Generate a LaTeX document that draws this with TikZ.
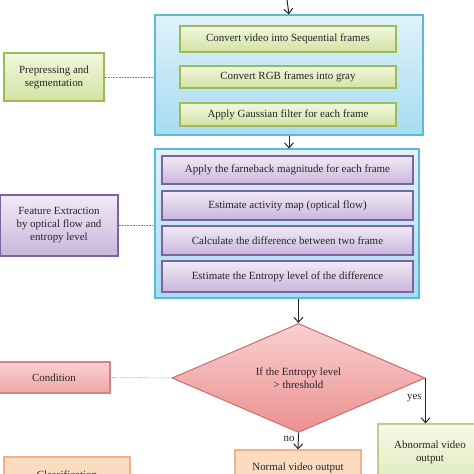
\documentclass[tikz,border=0pt]{standalone}
\usepackage{fontspec}
\setmainfont{Liberation Serif}
\usetikzlibrary{arrows.meta,shapes.geometric}
\definecolor{grnTop}{HTML}{F2F7DE}
\definecolor{grnBot}{HTML}{D3E2A3}
\definecolor{grnLine}{HTML}{9BBB59}
\definecolor{bluTop}{HTML}{E0F2FA}
\definecolor{bluBot}{HTML}{A6DBF0}
\definecolor{bluLine}{HTML}{5BBAD6}
\definecolor{purTop}{HTML}{F1EAF6}
\definecolor{purBot}{HTML}{C9B6DC}
\definecolor{purLine}{HTML}{7F62A0}
\definecolor{redTop}{HTML}{F9D0D0}
\definecolor{redBot}{HTML}{EC9090}
\definecolor{redLine}{HTML}{C0504D}
\definecolor{orgFill}{HTML}{FCDCC0}
\definecolor{orgLine}{HTML}{F4B183}
\definecolor{txtGray}{HTML}{262626}
\tikzset{
	box/.style={draw, rectangle, align=center, inner sep=2pt, line width=1.1pt, text=txtGray},
	greenbox/.style={box, draw=grnLine, top color=grnTop, bottom color=grnBot},
	bluebox/.style={box, draw=bluLine, top color=bluTop, bottom color=bluBot},
	purplebox/.style={box, draw=purLine, top color=purTop, bottom color=purBot},
	redbox/.style={box, draw=redLine!70, top color=redTop, bottom color=redBot!80},
	orangebox/.style={box, draw=orgLine, fill=orgFill},
	link/.style={densely dotted, gray, line width=0.6pt},
	flow/.style={->, line width=1pt, black!85}
}
\begin{document}
\begin{tikzpicture}[x=1bp, y=-1bp, >={Straight Barb[length=5pt,width=9pt]},
		font=\fontsize{11}{13}\selectfont]
	\useasboundingbox (0,0) rectangle (474,474);
	\coordinate (top) at (287,0);
	% preprocessing stage
	\node[bluebox, minimum width=268bp, minimum height=120bp] (pre) at (289,75) {};
	\node[greenbox, minimum width=216bp, minimum height=26bp] (pre1) at (288,39) {Convert video into Sequential frames};
	\node[greenbox, minimum width=216bp, minimum height=22bp] (pre2) at (288,77) {Convert RGB frames into gray};
	\node[greenbox, minimum width=216bp, minimum height=23bp] (pre3) at (288,114.5) {Apply Gaussian filter for each frame};
	\node[greenbox, minimum width=100bp, minimum height=48bp] (preLab) at (54,77) {Prepressing and\\segmentation};
	% feature stage
	\node[bluebox, minimum width=264bp, minimum height=149bp] (feat) at (287,223.5) {};
	\node[purplebox, minimum width=251bp, minimum height=28bp] (feat1) at (287.5,170) {Apply the farneback magnitude for each frame};
	\node[purplebox, minimum width=251bp, minimum height=29bp] (feat2) at (287.5,205.5) {Estimate activity map (optical flow)};
	\node[purplebox, minimum width=251bp, minimum height=29bp] (feat3) at (287.5,240.5) {Calculate the difference between two frame};
	\node[purplebox, minimum width=251bp, minimum height=31bp] (feat4) at (287.5,276.5) {Estimate the Entropy level of the difference};
	\node[purplebox, minimum width=118bp, minimum height=61bp] (featLab) at (59,225.5) {Feature Extraction\\by optical flow and\\entropy level};
	% decision
	\node[diamond, draw=redLine!80, line width=1.1pt, top color=redTop, bottom color=redBot,
		minimum width=253bp, minimum height=109bp, inner sep=0pt, align=center, text=txtGray] (cond) at (298.5,378) {If the Entropy level\\> threshold};
	\node[redbox, minimum width=112bp, minimum height=31bp] (condLab) at (54,377.5) {Condition};
	\node[greenbox, draw=grnLine!70, top color=grnTop!70, bottom color=grnBot!70, minimum width=104bp, minimum height=56bp] (abn) at (430,452) {Abnormal video\\output};
	\node[orangebox, minimum width=126bp, minimum height=36bp] (norm) at (298,468) {Normal video output};
	\node[orangebox, minimum width=126bp, minimum height=36bp] (clsLab) at (67,475) {Classification};
	\coordinate (yesEnd) at (cond.east |- abn.north);
	% connectors
	\draw[flow] (top) -- (pre.north);
	\draw[flow] (pre.south) -- (pre.south |- feat.north);
	\draw[flow] (cond.north |- feat.south) -- (cond.north);
	\draw[flow] (cond.east) -- node[left, text=txtGray, pos=0.45] {yes} (yesEnd);
	\draw[flow] (cond.south) -- node[left, text=txtGray, pos=0.35] {no} (norm.north);
	\draw[link] (preLab.east) -- (pre.west |- preLab.east);
	\draw[link] (featLab.east) -- (feat.west |- featLab.east);
	\draw[link] (condLab.east) -- (cond.west);
\end{tikzpicture}
\end{document}
